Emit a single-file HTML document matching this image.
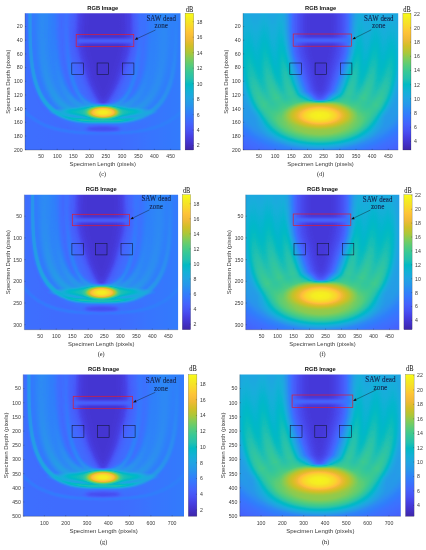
<!DOCTYPE html>
<html lang="en"><head><meta charset="utf-8"><title>RGB Image</title>
<style>html,body{margin:0;padding:0;background:#fff}svg{display:block}svg{font-family:"Liberation Sans",sans-serif}.s{font-family:"Liberation Serif",serif}</style>
</head><body>
<svg width="426" height="550" viewBox="0 0 426 550">
<defs>
<filter id="parula" color-interpolation-filters="sRGB" x="-5%" y="-5%" width="110%" height="110%"><feComponentTransfer><feFuncR type="table" tableValues="0.242 0.250 0.258 0.265 0.271 0.275 0.278 0.280 0.281 0.281 0.280 0.276 0.270 0.260 0.244 0.221 0.196 0.183 0.179 0.176 0.169 0.154 0.146 0.138 0.125 0.111 0.095 0.069 0.030 0.004 0.007 0.043 0.096 0.141 0.172 0.194 0.216 0.247 0.291 0.341 0.391 0.446 0.504 0.562 0.617 0.672 0.724 0.774 0.820 0.863 0.903 0.939 0.973 0.996 0.997 0.995 0.989 0.979 0.968 0.961 0.960 0.963 0.969 0.977"/><feFuncG type="table" tableValues="0.150 0.165 0.182 0.198 0.215 0.234 0.256 0.278 0.301 0.323 0.345 0.367 0.389 0.412 0.436 0.460 0.485 0.507 0.529 0.550 0.570 0.590 0.609 0.628 0.646 0.663 0.680 0.695 0.708 0.720 0.731 0.741 0.750 0.758 0.767 0.776 0.784 0.792 0.797 0.801 0.803 0.802 0.799 0.794 0.788 0.779 0.770 0.760 0.750 0.741 0.733 0.729 0.730 0.743 0.766 0.789 0.814 0.839 0.864 0.889 0.913 0.937 0.961 0.984"/><feFuncB type="table" tableValues="0.660 0.708 0.751 0.795 0.836 0.871 0.899 0.922 0.941 0.958 0.972 0.983 0.991 0.995 0.999 0.997 0.989 0.980 0.968 0.952 0.936 0.922 0.908 0.897 0.888 0.876 0.860 0.839 0.816 0.792 0.766 0.739 0.712 0.684 0.655 0.625 0.592 0.557 0.519 0.479 0.435 0.391 0.348 0.304 0.261 0.223 0.191 0.165 0.153 0.160 0.177 0.210 0.239 0.237 0.220 0.203 0.189 0.177 0.164 0.154 0.142 0.127 0.106 0.081"/></feComponentTransfer></filter>
<filter id="b10" x="-40%" y="-120%" width="180%" height="340%" color-interpolation-filters="sRGB"><feGaussianBlur stdDeviation="1.0"/></filter>
<filter id="b12" x="-40%" y="-120%" width="180%" height="340%" color-interpolation-filters="sRGB"><feGaussianBlur stdDeviation="1.2"/></filter>
<filter id="b13" x="-40%" y="-120%" width="180%" height="340%" color-interpolation-filters="sRGB"><feGaussianBlur stdDeviation="1.3"/></filter>
<filter id="b15" x="-40%" y="-120%" width="180%" height="340%" color-interpolation-filters="sRGB"><feGaussianBlur stdDeviation="1.5"/></filter>
<filter id="b16" x="-40%" y="-120%" width="180%" height="340%" color-interpolation-filters="sRGB"><feGaussianBlur stdDeviation="1.6"/></filter>
<filter id="b18" x="-40%" y="-120%" width="180%" height="340%" color-interpolation-filters="sRGB"><feGaussianBlur stdDeviation="1.8"/></filter>
<filter id="b20" x="-40%" y="-120%" width="180%" height="340%" color-interpolation-filters="sRGB"><feGaussianBlur stdDeviation="2.0"/></filter>
<filter id="b22" x="-40%" y="-120%" width="180%" height="340%" color-interpolation-filters="sRGB"><feGaussianBlur stdDeviation="2.2"/></filter>
<filter id="b25" x="-40%" y="-120%" width="180%" height="340%" color-interpolation-filters="sRGB"><feGaussianBlur stdDeviation="2.5"/></filter>
<filter id="b30" x="-40%" y="-120%" width="180%" height="340%" color-interpolation-filters="sRGB"><feGaussianBlur stdDeviation="3.0"/></filter>
<filter id="b35" x="-40%" y="-120%" width="180%" height="340%" color-interpolation-filters="sRGB"><feGaussianBlur stdDeviation="3.5"/></filter>
<filter id="b40" x="-40%" y="-120%" width="180%" height="340%" color-interpolation-filters="sRGB"><feGaussianBlur stdDeviation="4.0"/></filter>
<filter id="b45" x="-40%" y="-120%" width="180%" height="340%" color-interpolation-filters="sRGB"><feGaussianBlur stdDeviation="4.5"/></filter>
<filter id="b50" x="-40%" y="-120%" width="180%" height="340%" color-interpolation-filters="sRGB"><feGaussianBlur stdDeviation="5.0"/></filter>
<filter id="b60" x="-40%" y="-120%" width="180%" height="340%" color-interpolation-filters="sRGB"><feGaussianBlur stdDeviation="6.0"/></filter>
<linearGradient id="cbar" x1="0" y1="1" x2="0" y2="0"><stop offset="0" stop-color="rgb(62,38,168)"/><stop offset="0.05" stop-color="rgb(67,50,203)"/><stop offset="0.1" stop-color="rgb(71,65,229)"/><stop offset="0.14" stop-color="rgb(72,82,244)"/><stop offset="0.19" stop-color="rgb(69,99,253)"/><stop offset="0.24" stop-color="rgb(56,117,254)"/><stop offset="0.29" stop-color="rgb(46,135,247)"/><stop offset="0.33" stop-color="rgb(39,151,235)"/><stop offset="0.38" stop-color="rgb(32,165,227)"/><stop offset="0.43" stop-color="rgb(18,177,214)"/><stop offset="0.48" stop-color="rgb(2,186,195)"/><stop offset="0.52" stop-color="rgb(36,193,174)"/><stop offset="0.57" stop-color="rgb(55,200,151)"/><stop offset="0.62" stop-color="rgb(87,204,122)"/><stop offset="0.67" stop-color="rgb(129,204,89)"/><stop offset="0.71" stop-color="rgb(171,199,57)"/><stop offset="0.76" stop-color="rgb(209,191,39)"/><stop offset="0.81" stop-color="rgb(240,186,54)"/><stop offset="0.86" stop-color="rgb(254,195,56)"/><stop offset="0.9" stop-color="rgb(250,214,45)"/><stop offset="0.95" stop-color="rgb(245,233,36)"/><stop offset="1" stop-color="rgb(249,251,21)"/></linearGradient>
<radialGradient id="blobL" cx="0.5" cy="0.5" r="0.5"><stop offset="0" stop-color="#f7f7f7" stop-opacity="1"/><stop offset="0.2" stop-color="#f5f5f5" stop-opacity="1"/><stop offset="0.38" stop-color="#e8e8e8" stop-opacity="1"/><stop offset="0.55" stop-color="#d1d1d1" stop-opacity="1"/><stop offset="0.7" stop-color="#b8b8b8" stop-opacity="0.9"/><stop offset="0.85" stop-color="#9e9e9e" stop-opacity="0.55"/><stop offset="1" stop-color="#8c8c8c" stop-opacity="0"/></radialGradient>
<radialGradient id="haloL" cx="0.5" cy="0.5" r="0.5"><stop offset="0" stop-color="#9e9e9e" stop-opacity="1"/><stop offset="0.4" stop-color="#949494" stop-opacity="0.9"/><stop offset="0.7" stop-color="#808080" stop-opacity="0.6"/><stop offset="1" stop-color="#6b6b6b" stop-opacity="0"/></radialGradient>
<radialGradient id="tailL" cx="0.5" cy="0.5" r="0.5"><stop offset="0" stop-color="#8c8c8c" stop-opacity="0.95"/><stop offset="0.45" stop-color="#858585" stop-opacity="0.95"/><stop offset="0.7" stop-color="#787878" stop-opacity="0.7"/><stop offset="1" stop-color="#616161" stop-opacity="0"/></radialGradient>
<radialGradient id="blobR" cx="0.5" cy="0.5" r="0.5"><stop offset="0" stop-color="#fafafa" stop-opacity="1"/><stop offset="0.22" stop-color="#f5f5f5" stop-opacity="1"/><stop offset="0.4" stop-color="#e6e6e6" stop-opacity="1"/><stop offset="0.55" stop-color="#cfcfcf" stop-opacity="1"/><stop offset="0.75" stop-color="#bdbdbd" stop-opacity="0.9"/><stop offset="1" stop-color="#adadad" stop-opacity="0"/></radialGradient>
<radialGradient id="haloR" cx="0.5" cy="0.5" r="0.5"><stop offset="0" stop-color="#b8b8b8" stop-opacity="1"/><stop offset="0.45" stop-color="#adadad" stop-opacity="1"/><stop offset="0.65" stop-color="#9e9e9e" stop-opacity="0.85"/><stop offset="0.85" stop-color="#8a8a8a" stop-opacity="0.4"/><stop offset="1" stop-color="#7a7a7a" stop-opacity="0"/></radialGradient>
<linearGradient id="sideL0" gradientUnits="userSpaceOnUse" x1="25" y1="0" x2="180.5" y2="0"><stop offset="0" stop-color="#3d3d3d" stop-opacity="0.25"/><stop offset="0.2" stop-color="#3d3d3d" stop-opacity="0"/><stop offset="0.6" stop-color="#404040" stop-opacity="0"/><stop offset="0.8" stop-color="#454545" stop-opacity="0.4"/><stop offset="1" stop-color="#474747" stop-opacity="0.6"/></linearGradient>
<radialGradient id="arcg0" gradientUnits="userSpaceOnUse" cx="103.06" cy="112.38" r="125.33"><stop offset="0" stop-color="#999999" stop-opacity="0.95"/><stop offset="0.19" stop-color="#8a8a8a" stop-opacity="0.95"/><stop offset="0.38" stop-color="#757575" stop-opacity="0.85"/><stop offset="0.58" stop-color="#666666" stop-opacity="0.7"/><stop offset="0.77" stop-color="#5c5c5c" stop-opacity="0.5"/><stop offset="1" stop-color="#545454" stop-opacity="0.35"/></radialGradient>
<clipPath id="cp0"><rect x="25" y="13.2" width="155.5" height="136.8"/></clipPath>
<radialGradient id="sideR1" cx="0.5" cy="0.15" r="1"><stop offset="0" stop-color="#333333" stop-opacity="0"/><stop offset="0.68" stop-color="#333333" stop-opacity="0"/><stop offset="0.97" stop-color="#2b2b2b" stop-opacity="0.95"/></radialGradient>
<radialGradient id="arcg1" gradientUnits="userSpaceOnUse" cx="319.98" cy="115.53" r="125.09"><stop offset="0" stop-color="#bdbdbd" stop-opacity="1"/><stop offset="0.23" stop-color="#b0b0b0" stop-opacity="1"/><stop offset="0.46" stop-color="#9e9e9e" stop-opacity="0.95"/><stop offset="0.77" stop-color="#858585" stop-opacity="0.8"/><stop offset="1" stop-color="#737373" stop-opacity="0.6"/></radialGradient>
<clipPath id="cp1"><rect x="243" y="13.2" width="155.2" height="136.8"/></clipPath>
<linearGradient id="sideL2" gradientUnits="userSpaceOnUse" x1="24.4" y1="0" x2="178.1" y2="0"><stop offset="0" stop-color="#3d3d3d" stop-opacity="0.25"/><stop offset="0.2" stop-color="#3d3d3d" stop-opacity="0"/><stop offset="0.6" stop-color="#404040" stop-opacity="0"/><stop offset="0.8" stop-color="#454545" stop-opacity="0.4"/><stop offset="1" stop-color="#474747" stop-opacity="0.6"/></linearGradient>
<radialGradient id="arcg2" gradientUnits="userSpaceOnUse" cx="101.56" cy="292.57" r="123.88"><stop offset="0" stop-color="#999999" stop-opacity="0.95"/><stop offset="0.19" stop-color="#8a8a8a" stop-opacity="0.95"/><stop offset="0.38" stop-color="#757575" stop-opacity="0.85"/><stop offset="0.58" stop-color="#666666" stop-opacity="0.7"/><stop offset="0.77" stop-color="#5c5c5c" stop-opacity="0.5"/><stop offset="1" stop-color="#545454" stop-opacity="0.35"/></radialGradient>
<clipPath id="cp2"><rect x="24.4" y="194.7" width="153.7" height="135"/></clipPath>
<radialGradient id="sideR3" cx="0.5" cy="0.15" r="1"><stop offset="0" stop-color="#333333" stop-opacity="0"/><stop offset="0.68" stop-color="#333333" stop-opacity="0"/><stop offset="0.97" stop-color="#2b2b2b" stop-opacity="0.95"/></radialGradient>
<radialGradient id="arcg3" gradientUnits="userSpaceOnUse" cx="320.81" cy="295.68" r="123.8"><stop offset="0" stop-color="#bdbdbd" stop-opacity="1"/><stop offset="0.23" stop-color="#b0b0b0" stop-opacity="1"/><stop offset="0.46" stop-color="#9e9e9e" stop-opacity="0.95"/><stop offset="0.77" stop-color="#858585" stop-opacity="0.8"/><stop offset="1" stop-color="#737373" stop-opacity="0.6"/></radialGradient>
<clipPath id="cp3"><rect x="245.7" y="194.7" width="153.6" height="135"/></clipPath>
<linearGradient id="sideL4" gradientUnits="userSpaceOnUse" x1="23.2" y1="0" x2="184" y2="0"><stop offset="0" stop-color="#3d3d3d" stop-opacity="0.25"/><stop offset="0.2" stop-color="#3d3d3d" stop-opacity="0"/><stop offset="0.6" stop-color="#404040" stop-opacity="0"/><stop offset="0.8" stop-color="#454545" stop-opacity="0.4"/><stop offset="1" stop-color="#474747" stop-opacity="0.6"/></linearGradient>
<radialGradient id="arcg4" gradientUnits="userSpaceOnUse" cx="102.96" cy="477.3" r="129.6"><stop offset="0" stop-color="#999999" stop-opacity="0.95"/><stop offset="0.19" stop-color="#8a8a8a" stop-opacity="0.95"/><stop offset="0.38" stop-color="#757575" stop-opacity="0.85"/><stop offset="0.58" stop-color="#666666" stop-opacity="0.7"/><stop offset="0.77" stop-color="#5c5c5c" stop-opacity="0.5"/><stop offset="1" stop-color="#545454" stop-opacity="0.35"/></radialGradient>
<clipPath id="cp4"><rect x="23.2" y="374.5" width="160.8" height="141.8"/></clipPath>
<radialGradient id="sideR5" cx="0.5" cy="0.15" r="1"><stop offset="0" stop-color="#333333" stop-opacity="0"/><stop offset="0.68" stop-color="#333333" stop-opacity="0"/><stop offset="0.97" stop-color="#2b2b2b" stop-opacity="0.95"/></radialGradient>
<radialGradient id="arcg5" gradientUnits="userSpaceOnUse" cx="319.33" cy="480.57" r="129.77"><stop offset="0" stop-color="#bdbdbd" stop-opacity="1"/><stop offset="0.23" stop-color="#b0b0b0" stop-opacity="1"/><stop offset="0.46" stop-color="#9e9e9e" stop-opacity="0.95"/><stop offset="0.77" stop-color="#858585" stop-opacity="0.8"/><stop offset="1" stop-color="#737373" stop-opacity="0.6"/></radialGradient>
<clipPath id="cp5"><rect x="239.8" y="374.5" width="161" height="141.8"/></clipPath>
</defs>
<rect width="426" height="550" fill="#fff"/>
<g id="panel-c">
<g clip-path="url(#cp0)"><g filter="url(#parula)">
<rect x="23" y="11.2" width="159.5" height="140.8" fill="#373737" fill-opacity="1"/>
<path d="M162.93 6.36 162.93 13.2 162.84 29.63 162.59 39.25 162.16 47.25 161.56 54.31 160.79 60.7 159.85 66.56 158.74 71.97 157.45 76.97 156 81.61 154.37 85.91 152.56 89.89 150.58 93.55 148.41 96.9 146.06 99.96 143.52 102.71 140.78 105.18 137.81 107.35 134.62 109.23 131.15 110.82 127.37 112.12 123.2 113.13 118.47 113.85 112.78 114.29 103.06 114.43 93.34 114.29 87.66 113.85 82.92 113.13 78.75 112.12 74.97 110.82 71.5 109.23 68.31 107.35 65.35 105.18 62.6 102.71 60.06 99.96 57.71 96.9 55.54 93.55 53.56 89.89 51.75 85.91 50.12 81.61 48.67 76.97 47.38 71.97 46.27 66.56 45.33 60.7 44.56 54.31 43.96 47.25 43.54 39.25 43.28 29.63 43.19 13.2 43.19 6.36" fill="none" stroke="#5e5e5e" stroke-opacity="0.55" stroke-width="18" stroke-linejoin="round" filter="url(#b40)"/>
<path d="M205.69 6.36 205.69 13.2 205.54 32.63 205.1 44 204.37 53.46 203.35 61.81 202.03 69.37 200.41 76.29 198.51 82.69 196.31 88.61 193.81 94.09 191.01 99.18 187.92 103.88 184.52 108.21 180.81 112.17 176.78 115.78 172.42 119.04 167.71 121.95 162.64 124.52 157.16 126.75 151.22 128.63 144.74 130.17 137.58 131.36 129.47 132.22 119.72 132.73 103.06 132.9 86.4 132.73 76.65 132.22 68.54 131.36 61.38 130.17 54.9 128.63 48.96 126.75 43.48 124.52 38.41 121.95 33.7 119.04 29.34 115.78 25.31 112.17 21.6 108.21 18.2 103.88 15.11 99.18 12.31 94.09 9.82 88.61 7.61 82.69 5.71 76.29 4.09 69.37 2.78 61.81 1.75 53.46 1.02 44 0.58 32.63 0.43 13.2 0.43 6.36" fill="none" stroke="#525252" stroke-opacity="0.55" stroke-width="2.4" stroke-linejoin="round" filter="url(#b12)"/>
<path d="M176.15 6.36 176.15 13.2 176.05 33.77 175.77 44.46 175.29 53.08 174.63 60.54 173.77 67.18 172.72 73.2 171.48 78.7 170.04 83.75 168.41 88.41 166.58 92.69 164.54 96.63 162.3 100.24 159.84 103.54 157.16 106.53 154.24 109.22 151.08 111.62 147.64 113.73 143.89 115.56 139.8 117.1 135.28 118.36 130.2 119.33 124.34 120.03 117.06 120.45 103.06 120.59 89.06 120.45 81.79 120.03 75.92 119.33 70.85 118.36 66.32 117.1 62.23 115.56 58.48 113.73 55.05 111.62 51.88 109.22 48.96 106.53 46.28 103.54 43.82 100.24 41.58 96.63 39.54 92.69 37.71 88.41 36.08 83.75 34.64 78.7 33.4 73.2 32.35 67.18 31.5 60.54 30.83 53.08 30.36 44.46 30.07 33.77 29.98 13.2 29.98 6.36" fill="none" stroke="url(#arcg0)" stroke-opacity="1.0" stroke-width="4.0" stroke-linejoin="round" filter="url(#b13)"/>
<path d="M62.23 115.56 58.48 113.73 55.05 111.62 51.88 109.22 48.96 106.53 46.28 103.54 43.82 100.24 41.58 96.63 39.54 92.69 37.71 88.41 36.08 83.75 34.64 78.7 33.4 73.2 32.35 67.18 31.5 60.54 30.83 53.08 30.36 44.46 30.07 33.77 29.98 13.2 29.98 6.36" fill="none" stroke="#6b6b6b" stroke-opacity="0.55" stroke-width="3.2" stroke-linejoin="round" filter="url(#b14)"/>
<path d="M164.79 6.36 164.79 13.2 164.71 31.49 164.46 41.36 164.05 49.41 163.47 56.4 162.73 62.67 161.81 68.36 160.73 73.59 159.49 78.4 158.07 82.84 156.48 86.93 154.71 90.7 152.77 94.17 150.65 97.33 148.33 100.2 145.82 102.79 143.09 105.1 140.14 107.14 136.93 108.89 133.43 110.38 129.59 111.59 125.29 112.54 120.35 113.21 114.29 113.61 103.06 113.75 91.83 113.61 85.77 113.21 80.83 112.54 76.54 111.59 72.69 110.38 69.19 108.89 65.99 107.14 63.03 105.1 60.31 102.79 57.79 100.2 55.48 97.33 53.35 94.17 51.41 90.7 49.64 86.93 48.05 82.84 46.64 78.4 45.39 73.59 44.31 68.36 43.4 62.67 42.65 56.4 42.07 49.41 41.66 41.36 41.41 31.49 41.33 13.2 41.33 6.36" fill="none" stroke="url(#arcg0)" stroke-opacity="0.6" stroke-width="4.0" stroke-linejoin="round" filter="url(#b20)"/>
<path d="M151.27 6.36 151.27 13.2 151.2 28.74 150.99 37.84 150.65 45.41 150.16 52.09 149.55 58.13 148.79 63.68 147.89 68.79 146.86 73.53 145.69 77.92 144.37 81.98 142.92 85.74 141.32 89.2 139.58 92.38 137.69 95.27 135.64 97.87 133.43 100.2 131.04 102.26 128.47 104.04 125.68 105.54 122.64 106.77 119.28 107.73 115.46 108.41 110.89 108.82 103.06 108.96 95.24 108.82 90.66 108.41 86.85 107.73 83.48 106.77 80.44 105.54 77.65 104.04 75.08 102.26 72.69 100.2 70.48 97.87 68.44 95.27 66.54 92.38 64.8 89.2 63.2 85.74 61.75 81.98 60.44 77.92 59.26 73.53 58.23 68.79 57.33 63.68 56.58 58.13 55.96 52.09 55.48 45.41 55.13 37.84 54.92 28.74 54.86 13.2 54.86 6.36" fill="none" stroke="url(#arcg0)" stroke-opacity="0.5" stroke-width="3.6" stroke-linejoin="round" filter="url(#b20)"/>
<path d="M139.6 6.36 139.6 13.2 139.55 26.46 139.38 34.92 139.1 42.15 138.71 48.62 138.21 54.55 137.59 60.04 136.87 65.14 136.04 69.9 135.09 74.33 134.03 78.46 132.87 82.29 131.59 85.82 130.2 89.08 128.7 92.05 127.08 94.73 125.33 97.14 123.47 99.27 121.46 101.11 119.31 102.67 116.98 103.95 114.43 104.94 111.6 105.65 108.27 106.08 103.06 106.22 97.85 106.08 94.53 105.65 91.69 104.94 89.15 103.95 86.82 102.67 84.66 101.11 82.66 99.27 80.79 97.14 79.05 94.73 77.43 92.05 75.92 89.08 74.53 85.82 73.25 82.29 72.09 78.46 71.03 74.33 70.09 69.9 69.25 65.14 68.53 60.04 67.91 54.55 67.41 48.62 67.02 42.15 66.74 34.92 66.57 26.46 66.52 13.2 66.52 6.36" fill="none" stroke="url(#arcg0)" stroke-opacity="0.4" stroke-width="2.8" stroke-linejoin="round" filter="url(#b18)"/>
<rect x="23" y="11.2" width="159.5" height="140.8" fill="url(#sideL0)" fill-opacity="1"/>
<path d="M70.87 6.36 71.89 13.2 70.5 34.71 72.28 49.04 74.51 57.65 79.37 70.55 82.61 79.15 85.37 86.32 91.45 97.22 97.56 106.1 103.06 111.7 103.06 111.7 108.75 106.1 115.18 97.22 121.64 86.32 124.64 79.15 128.18 70.55 133.49 57.65 136.01 49.04 138.3 34.71 137.65 13.2 138.67 6.36Z" fill="#212121" fill-opacity="0.55" filter="url(#b30)"/>
<path d="M76.94 6.36 77.77 13.2 76.56 33.66 77.98 47.3 79.78 55.48 83.73 67.76 86.37 75.94 88.61 82.76 93.57 93.13 98.57 101.59 103.06 106.91 103.06 106.91 107.75 101.59 113.05 93.13 118.39 82.76 120.88 75.94 123.82 67.76 128.22 55.48 130.31 47.3 132.23 33.66 131.77 13.2 132.61 6.36Z" fill="#181818" fill-opacity="0.84" filter="url(#b18)"/>
<path d="M82.01 6.36 82.69 13.2 81.63 32.91 82.75 46.06 84.19 53.94 87.38 65.77 89.51 73.65 91.32 80.23 95.34 90.21 99.4 98.36 103.06 103.49 103.06 103.49 106.91 98.36 111.28 90.21 115.68 80.23 117.74 73.65 120.17 65.77 123.81 53.94 125.55 46.06 127.16 32.91 126.85 13.2 127.54 6.36Z" fill="#080808" fill-opacity="0.55" filter="url(#b30)"/>
<rect x="77.7" y="38.89" width="54.6" height="4.15" fill="#3d3d3d" fill-opacity="0.7" filter="url(#b10)"/>
<ellipse cx="103.06" cy="128.8" rx="17.11" ry="2.74" fill="#080808" fill-opacity="0.5" filter="url(#b18)"/>
<ellipse cx="103.06" cy="111.97" rx="55.98" ry="6.43" fill="url(#tailL)" fill-opacity="1"/>
<ellipse cx="103.06" cy="112.38" rx="31.1" ry="9.58" fill="url(#haloL)" fill-opacity="1"/>
<ellipse cx="103.06" cy="112.38" rx="20.21" ry="7.66" fill="url(#blobL)" fill-opacity="1"/>
</g></g>
<path d="M25 13.2V150H180.5" fill="none" stroke="#262626" stroke-width="0.35" stroke-opacity="0.8"/>
<path d="M41.04 150v-1.2M57.23 150v-1.2M73.43 150v-1.2M89.63 150v-1.2M105.83 150v-1.2M122.03 150v-1.2M138.22 150v-1.2M154.42 150v-1.2M170.62 150v-1.2M25 26.54h1.2M25 40.22h1.2M25 53.9h1.2M25 67.58h1.2M25 81.26h1.2M25 94.94h1.2M25 108.62h1.2M25 122.3h1.2M25 135.98h1.2M25 149.66h1.2" stroke="#262626" stroke-width="0.35" stroke-opacity="0.8" fill="none"/>
<g font-size="5.2" fill="#3a3a3a">
<g text-anchor="middle"><text x="41.04" y="158.2">50</text><text x="57.23" y="158.2">100</text><text x="73.43" y="158.2">150</text><text x="89.63" y="158.2">200</text><text x="105.83" y="158.2">250</text><text x="122.03" y="158.2">300</text><text x="138.22" y="158.2">350</text><text x="154.42" y="158.2">400</text><text x="170.62" y="158.2">450</text></g>
<g text-anchor="end"><text x="22.6" y="28.44">20</text><text x="22.6" y="42.12">40</text><text x="22.6" y="55.8">60</text><text x="22.6" y="69.48">80</text><text x="22.6" y="83.16">100</text><text x="22.6" y="96.84">120</text><text x="22.6" y="110.52">140</text><text x="22.6" y="124.2">160</text><text x="22.6" y="137.88">180</text><text x="22.6" y="151.56">200</text></g>
</g>
<text x="102.75" y="10.3" font-size="5.75" font-weight="bold" text-anchor="middle" fill="#111">RGB Image</text>
<text x="102.75" y="166.4" font-size="5.9" text-anchor="middle" fill="#3a3a3a">Specimen Length (pixels)</text>
<text transform="translate(10.2 81.6) rotate(-90)" font-size="5.9" text-anchor="middle" fill="#3a3a3a">Specimen Depth (pixels)</text>
<text class="s" x="102.75" y="176.3" font-size="6.2" text-anchor="middle" fill="#222">(c)</text>
<rect x="185.1" y="13.2" width="8.6" height="136.8" fill="url(#cbar)" stroke="#262626" stroke-width="0.3" stroke-opacity="0.7"/>
<path d="M193.7 145.59h-1M193.7 130.1h-1M193.7 114.62h-1M193.7 99.14h-1M193.7 83.65h-1M193.7 68.17h-1M193.7 52.68h-1M193.7 37.2h-1M193.7 21.72h-1" stroke="#262626" stroke-width="0.35" stroke-opacity="0.8" fill="none"/>
<g font-size="5.2" fill="#3a3a3a"><text x="196.7" y="147.49">2</text><text x="196.7" y="132">4</text><text x="196.7" y="116.52">6</text><text x="196.7" y="101.04">8</text><text x="196.7" y="85.55">10</text><text x="196.7" y="70.07">12</text><text x="196.7" y="54.58">14</text><text x="196.7" y="39.1">16</text><text x="196.7" y="23.62">18</text></g>
<text class="s" x="185.8" y="11.9" font-size="7.3" textLength="7.5" lengthAdjust="spacingAndGlyphs" fill="#222" stroke="#222" stroke-width="0.06">dB</text>
<rect x="76.2" y="34.5" width="57.6" height="12.2" fill="none" stroke="#dc1e32" stroke-width="0.7"/>
<rect x="71.8" y="63" width="11.5" height="11.5" fill="none" stroke="#14183c" stroke-width="0.6"/>
<rect x="97.1" y="63" width="11.5" height="11.5" fill="none" stroke="#14183c" stroke-width="0.6"/>
<rect x="122.4" y="63" width="11.5" height="11.5" fill="none" stroke="#14183c" stroke-width="0.6"/>
<g class="s" font-size="7.5" fill="#14244e" stroke="#14244e" stroke-width="0.1"><text x="146.5" y="21" textLength="29.6" lengthAdjust="spacingAndGlyphs">SAW dead</text><text x="154.6" y="28.4" textLength="13.4" lengthAdjust="spacingAndGlyphs">zone</text></g>
<path d="M155.5 30L137.6 38.35" stroke="#111" stroke-width="0.4" fill="none"/>
<path d="M134.7 39.7L137.03 37.12L138.17 39.57Z" fill="#111"/>
</g>
<g id="panel-d">
<g clip-path="url(#cp1)"><g filter="url(#parula)">
<rect x="241" y="11.2" width="159.2" height="140.8" fill="#545454" fill-opacity="1"/>
<rect x="241" y="11.2" width="159.2" height="140.8" fill="url(#sideR1)" fill-opacity="1"/>
<path d="M287.39 6.36 287.39 13.2 287.32 35.25 288.92 49.95 291.19 58.77 297.73 72 301.32 80.82 304.26 88.17 309.49 99.35 316.7 108.46 319.98 111.7 319.98 111.7 323.28 108.46 330.55 99.35 335.85 88.17 338.83 80.82 342.48 72 349.1 58.77 351.43 49.95 353.12 35.25 353.19 13.2 353.19 6.36Z" fill="#303030" fill-opacity="0.6" filter="url(#b30)"/>
<path d="M416.2 6.36 416.2 13.2 416.06 31.73 415.61 43.55 414.88 53.64 413.85 62.69 412.53 70.97 410.91 78.64 409.01 85.77 406.81 92.41 404.32 98.6 401.54 104.37 398.47 109.72 395.1 114.66 391.44 119.21 387.48 123.35 383.21 127.11 378.63 130.47 373.71 133.44 368.43 136.01 362.76 138.2 356.62 139.98 349.92 141.37 342.45 142.36 333.7 142.96 319.98 143.16 306.26 142.96 297.51 142.36 290.04 141.37 283.34 139.98 277.2 138.2 271.53 136.01 266.25 133.44 261.33 130.47 256.74 127.11 252.48 123.35 248.52 119.21 244.86 114.66 241.49 109.72 238.42 104.37 235.64 98.6 233.15 92.41 230.95 85.77 229.05 78.64 227.43 70.97 226.11 62.69 225.08 53.64 224.34 43.55 223.9 31.73 223.76 13.2 223.76 6.36" fill="none" stroke="#6b6b6b" stroke-opacity="0.5" stroke-width="10" stroke-linejoin="round" filter="url(#b40)"/>
<path d="M392.92 6.36 392.92 13.2 392.82 32.51 392.52 43.36 392.02 52.28 391.31 60.1 390.4 67.14 389.29 73.56 387.98 79.47 386.46 84.93 384.73 89.97 382.8 94.64 380.66 98.94 378.31 102.9 375.73 106.52 372.94 109.81 369.9 112.78 366.62 115.43 363.07 117.77 359.23 119.79 355.05 121.5 350.48 122.89 345.39 123.98 339.59 124.76 332.54 125.22 319.98 125.38 307.42 125.22 300.37 124.76 294.56 123.98 289.48 122.89 284.9 121.5 280.73 119.79 276.89 117.77 273.34 115.43 270.06 112.78 267.02 109.81 264.22 106.52 261.65 102.9 259.3 98.94 257.15 94.64 255.22 89.97 253.5 84.93 251.98 79.47 250.67 73.56 249.56 67.14 248.65 60.1 247.94 52.28 247.44 43.36 247.14 32.51 247.04 13.2 247.04 6.36" fill="none" stroke="url(#arcg1)" stroke-opacity="1.0" stroke-width="16" stroke-linejoin="round" filter="url(#b50)"/>
<path d="M375.85 6.36 375.85 13.2 375.77 30.3 375.53 40.3 375.13 48.63 374.57 55.98 373.86 62.63 372.98 68.72 371.94 74.35 370.74 79.56 369.38 84.39 367.86 88.86 366.18 93 364.32 96.81 362.3 100.3 360.11 103.47 357.74 106.34 355.18 108.9 352.41 111.16 349.43 113.12 346.2 114.78 342.67 116.13 338.77 117.18 334.36 117.93 329.05 118.39 319.98 118.54 310.91 118.39 305.6 117.93 301.19 117.18 297.29 116.13 293.76 114.78 290.53 113.12 287.55 111.16 284.78 108.9 282.22 106.34 279.85 103.47 277.65 100.3 275.63 96.81 273.78 93 272.1 88.86 270.58 84.39 269.22 79.56 268.02 74.35 266.98 68.72 266.1 62.63 265.38 55.98 264.83 48.63 264.43 40.3 264.19 30.3 264.11 13.2 264.11 6.36" fill="none" stroke="url(#arcg1)" stroke-opacity="0.9" stroke-width="15" stroke-linejoin="round" filter="url(#b50)"/>
<path d="M358.78 6.36 358.78 13.2 358.72 25.79 358.52 34.62 358.2 42.39 357.76 49.47 357.19 56.05 356.49 62.21 355.66 67.98 354.72 73.4 353.64 78.48 352.45 83.24 351.14 87.67 349.7 91.79 348.14 95.59 346.47 99.06 344.67 102.22 342.74 105.05 340.69 107.56 338.51 109.74 336.19 111.59 333.7 113.1 331.02 114.28 328.08 115.12 324.74 115.63 319.98 115.8 315.22 115.63 311.88 115.12 308.94 114.28 306.26 113.1 303.77 111.59 301.45 109.74 299.26 107.56 297.21 105.05 295.29 102.22 293.49 99.06 291.82 95.59 290.26 91.79 288.82 87.67 287.51 83.24 286.31 78.48 285.24 73.4 284.3 67.98 283.47 62.21 282.77 56.05 282.2 49.47 281.75 42.39 281.43 34.62 281.24 25.79 281.18 13.2 281.18 6.36" fill="none" stroke="url(#arcg1)" stroke-opacity="0.8" stroke-width="13" stroke-linejoin="round" filter="url(#b50)"/>
<ellipse cx="319.98" cy="120.59" rx="65.18" ry="30.1" fill="url(#haloR)" fill-opacity="1"/>
<path d="M289.72 6.36 289.72 13.2 289.65 34.95 291.13 49.44 293.24 58.14 299.31 71.19 302.65 79.88 305.38 87.13 310.23 98.15 316.93 107.14 319.98 110.33 319.98 110.33 323.05 107.14 329.8 98.15 334.73 87.13 337.5 79.88 340.89 71.19 347.05 58.14 349.22 49.44 350.79 34.95 350.86 13.2 350.86 6.36Z" fill="#333333" fill-opacity="0.5" filter="url(#b40)"/>
<path d="M294.53 6.36 294.53 13.2 294.46 34.03 295.7 47.91 297.47 56.24 302.59 68.74 305.39 77.07 307.69 84.01 311.77 94.56 317.41 103.17 319.98 106.22 319.98 106.22 322.57 103.17 328.26 94.56 332.42 84.01 334.76 77.07 337.62 68.74 342.82 56.24 344.65 47.91 345.98 34.03 346.05 13.2 346.05 6.36Z" fill="#1c1c1c" fill-opacity="0.66" filter="url(#b35)"/>
<path d="M302.19 6.36 302.19 13.2 302.12 33.11 302.98 46.38 304.22 54.34 307.79 66.29 309.76 74.25 311.36 80.89 314.23 90.97 318.18 99.2 319.98 102.12 319.98 102.12 321.8 99.2 325.81 90.97 328.74 80.89 330.39 74.25 332.41 66.29 336.08 54.34 337.37 46.38 338.32 33.11 338.39 13.2 338.39 6.36Z" fill="#0a0a0a" fill-opacity="0.7" filter="url(#b40)"/>
<rect x="294.7" y="38.39" width="55.4" height="4.15" fill="#424242" fill-opacity="0.7" filter="url(#b10)"/>
<ellipse cx="319.98" cy="115.53" rx="38.8" ry="16.14" fill="url(#blobR)" fill-opacity="1"/>
</g></g>
<path d="M243 13.2V150H398.2" fill="none" stroke="#262626" stroke-width="0.35" stroke-opacity="0.8"/>
<path d="M259 150v-1.2M275.17 150v-1.2M291.34 150v-1.2M307.5 150v-1.2M323.67 150v-1.2M339.84 150v-1.2M356 150v-1.2M372.17 150v-1.2M388.34 150v-1.2M243 26.54h1.2M243 40.22h1.2M243 53.9h1.2M243 67.58h1.2M243 81.26h1.2M243 94.94h1.2M243 108.62h1.2M243 122.3h1.2M243 135.98h1.2M243 149.66h1.2" stroke="#262626" stroke-width="0.35" stroke-opacity="0.8" fill="none"/>
<g font-size="5.2" fill="#3a3a3a">
<g text-anchor="middle"><text x="259" y="158.2">50</text><text x="275.17" y="158.2">100</text><text x="291.34" y="158.2">150</text><text x="307.5" y="158.2">200</text><text x="323.67" y="158.2">250</text><text x="339.84" y="158.2">300</text><text x="356" y="158.2">350</text><text x="372.17" y="158.2">400</text><text x="388.34" y="158.2">450</text></g>
<g text-anchor="end"><text x="240.6" y="28.44">20</text><text x="240.6" y="42.12">40</text><text x="240.6" y="55.8">60</text><text x="240.6" y="69.48">80</text><text x="240.6" y="83.16">100</text><text x="240.6" y="96.84">120</text><text x="240.6" y="110.52">140</text><text x="240.6" y="124.2">160</text><text x="240.6" y="137.88">180</text><text x="240.6" y="151.56">200</text></g>
</g>
<text x="320.6" y="10.3" font-size="5.75" font-weight="bold" text-anchor="middle" fill="#111">RGB Image</text>
<text x="320.6" y="166.4" font-size="5.9" text-anchor="middle" fill="#3a3a3a">Specimen Length (pixels)</text>
<text transform="translate(228.2 81.6) rotate(-90)" font-size="5.9" text-anchor="middle" fill="#3a3a3a">Specimen Depth (pixels)</text>
<text class="s" x="320.6" y="176.3" font-size="6.2" text-anchor="middle" fill="#222">(d)</text>
<rect x="402.9" y="13.2" width="8.1" height="136.8" fill="url(#cbar)" stroke="#262626" stroke-width="0.3" stroke-opacity="0.7"/>
<path d="M411 141.35h-1M411 127.18h-1M411 113h-1M411 98.82h-1M411 84.65h-1M411 70.47h-1M411 56.3h-1M411 42.12h-1M411 27.94h-1M411 13.77h-1" stroke="#262626" stroke-width="0.35" stroke-opacity="0.8" fill="none"/>
<g font-size="5.2" fill="#3a3a3a"><text x="414" y="143.25">4</text><text x="414" y="129.08">6</text><text x="414" y="114.9">8</text><text x="414" y="100.72">10</text><text x="414" y="86.55">12</text><text x="414" y="72.37">14</text><text x="414" y="58.2">16</text><text x="414" y="44.02">18</text><text x="414" y="29.84">20</text><text x="414" y="15.67">22</text></g>
<text class="s" x="403.3" y="11.9" font-size="7.3" textLength="7.5" lengthAdjust="spacingAndGlyphs" fill="#222" stroke="#222" stroke-width="0.06">dB</text>
<rect x="293.2" y="34" width="58.4" height="12.2" fill="none" stroke="#dc1e32" stroke-width="0.7"/>
<rect x="289.8" y="63" width="11.5" height="11.5" fill="none" stroke="#14183c" stroke-width="0.6"/>
<rect x="315.1" y="63" width="11.5" height="11.5" fill="none" stroke="#14183c" stroke-width="0.6"/>
<rect x="340.4" y="63" width="11.5" height="11.5" fill="none" stroke="#14183c" stroke-width="0.6"/>
<g class="s" font-size="7.5" fill="#14244e" stroke="#14244e" stroke-width="0.1"><text x="363.9" y="21" textLength="29.6" lengthAdjust="spacingAndGlyphs">SAW dead</text><text x="372" y="28.4" textLength="13.4" lengthAdjust="spacingAndGlyphs">zone</text></g>
<path d="M371.3 29.8L355.26 37.86" stroke="#111" stroke-width="0.4" fill="none"/>
<path d="M352.4 39.3L354.65 36.66L355.87 39.07Z" fill="#111"/>
</g>
<g id="panel-e">
<g clip-path="url(#cp2)"><g filter="url(#parula)">
<rect x="22.4" y="192.7" width="157.7" height="139" fill="#373737" fill-opacity="1"/>
<path d="M158.07 187.95 158.07 194.7 157.99 210.92 157.75 220.41 157.34 228.3 156.78 235.27 156.05 241.58 155.16 247.36 154.11 252.69 152.9 257.63 151.53 262.21 149.99 266.46 148.28 270.38 146.41 273.99 144.37 277.3 142.15 280.31 139.75 283.03 137.16 285.47 134.36 287.61 131.34 289.46 128.08 291.03 124.51 292.32 120.57 293.32 116.1 294.03 110.73 294.46 101.56 294.6 92.38 294.46 87.02 294.03 82.55 293.32 78.61 292.32 75.04 291.03 71.77 289.46 68.75 287.61 65.96 285.47 63.37 283.03 60.97 280.31 58.75 277.3 56.7 273.99 54.83 270.38 53.13 266.46 51.59 262.21 50.21 257.63 49 252.69 47.95 247.36 47.06 241.58 46.34 235.27 45.77 228.3 45.37 220.41 45.13 210.92 45.05 194.7 45.05 187.95" fill="none" stroke="#5e5e5e" stroke-opacity="0.55" stroke-width="18" stroke-linejoin="round" filter="url(#b40)"/>
<path d="M198.43 187.95 198.43 194.7 198.3 213.88 197.88 225.1 197.19 234.43 196.22 242.67 194.98 250.13 193.45 256.96 191.65 263.27 189.58 269.11 187.22 274.53 184.58 279.55 181.66 284.19 178.45 288.46 174.95 292.37 171.14 295.93 167.03 299.15 162.59 302.02 157.79 304.56 152.62 306.75 147.02 308.61 140.9 310.13 134.14 311.31 126.49 312.15 117.28 312.66 101.56 312.82 85.83 312.66 76.63 312.15 68.97 311.31 62.21 310.13 56.1 308.61 50.49 306.75 45.32 304.56 40.53 302.02 36.09 299.15 31.97 295.93 28.17 292.37 24.67 288.46 21.46 284.19 18.53 279.55 15.9 274.53 13.54 269.11 11.46 263.27 9.66 256.96 8.14 250.13 6.89 242.67 5.93 234.43 5.23 225.1 4.82 213.88 4.68 194.7 4.68 187.95" fill="none" stroke="#525252" stroke-opacity="0.55" stroke-width="2.4" stroke-linejoin="round" filter="url(#b12)"/>
<path d="M170.55 187.95 170.55 194.7 170.46 214.99 170.19 225.55 169.74 234.06 169.11 241.41 168.3 247.97 167.31 253.91 166.14 259.34 164.79 264.32 163.24 268.92 161.52 273.15 159.59 277.03 157.48 280.6 155.16 283.85 152.62 286.8 149.87 289.46 146.88 291.83 143.64 293.91 140.1 295.71 136.23 297.23 131.97 298.47 127.18 299.44 121.64 300.12 114.77 300.54 101.56 300.68 88.35 300.54 81.47 300.12 75.94 299.44 71.15 298.47 66.88 297.23 63.01 295.71 59.48 293.91 56.23 291.83 53.24 289.46 50.49 286.8 47.96 283.85 45.64 280.6 43.52 277.03 41.6 273.15 39.87 268.92 38.33 264.32 36.97 259.34 35.8 253.91 34.81 247.97 34 241.41 33.38 234.06 32.93 225.55 32.66 214.99 32.57 194.7 32.57 187.95" fill="none" stroke="url(#arcg2)" stroke-opacity="1.0" stroke-width="4.0" stroke-linejoin="round" filter="url(#b13)"/>
<path d="M63.01 295.71 59.48 293.91 56.23 291.83 53.24 289.46 50.49 286.8 47.96 283.85 45.64 280.6 43.52 277.03 41.6 273.15 39.87 268.92 38.33 264.32 36.97 259.34 35.8 253.91 34.81 247.97 34 241.41 33.38 234.06 32.93 225.55 32.66 214.99 32.57 194.7 32.57 187.95" fill="none" stroke="#6b6b6b" stroke-opacity="0.55" stroke-width="3.2" stroke-linejoin="round" filter="url(#b14)"/>
<path d="M159.83 187.95 159.83 194.7 159.75 212.75 159.52 222.49 159.13 230.43 158.58 237.33 157.88 243.52 157.02 249.14 156 254.29 154.82 259.04 153.48 263.42 151.98 267.46 150.32 271.18 148.48 274.6 146.47 277.72 144.29 280.56 141.92 283.11 139.34 285.39 136.55 287.4 133.53 289.13 130.23 290.6 126.59 291.8 122.54 292.73 117.88 293.39 112.16 293.79 101.56 293.92 90.96 293.79 85.24 293.39 80.57 292.73 76.52 291.8 72.89 290.6 69.59 289.13 66.56 287.4 63.77 285.39 61.2 283.11 58.83 280.56 56.64 277.72 54.63 274.6 52.8 271.18 51.13 267.46 49.63 263.42 48.29 259.04 47.12 254.29 46.1 249.14 45.24 243.52 44.53 237.33 43.99 230.43 43.6 222.49 43.36 212.75 43.28 194.7 43.28 187.95" fill="none" stroke="url(#arcg2)" stroke-opacity="0.6" stroke-width="4.0" stroke-linejoin="round" filter="url(#b20)"/>
<path d="M147.06 187.95 147.06 194.7 147 210.04 146.8 219.02 146.48 226.49 146.02 233.08 145.44 239.04 144.72 244.51 143.88 249.56 142.9 254.23 141.79 258.56 140.55 262.58 139.18 266.29 137.67 269.7 136.03 272.84 134.24 275.69 132.31 278.26 130.22 280.56 127.97 282.59 125.54 284.34 122.91 285.83 120.04 287.04 116.86 287.99 113.27 288.66 108.94 289.07 101.56 289.2 94.17 289.07 89.85 288.66 86.25 287.99 83.08 287.04 80.21 285.83 77.57 284.34 75.14 282.59 72.89 280.56 70.81 278.26 68.87 275.69 67.09 272.84 65.44 269.7 63.93 266.29 62.56 262.58 61.32 258.56 60.22 254.23 59.24 249.56 58.39 244.51 57.68 239.04 57.09 233.08 56.64 226.49 56.31 219.02 56.12 210.04 56.05 194.7 56.05 187.95" fill="none" stroke="url(#arcg2)" stroke-opacity="0.5" stroke-width="3.6" stroke-linejoin="round" filter="url(#b20)"/>
<path d="M136.05 187.95 136.05 194.7 136 207.79 135.84 216.14 135.58 223.27 135.21 229.66 134.73 235.51 134.15 240.92 133.47 245.96 132.68 250.65 131.79 255.03 130.79 259.1 129.69 262.88 128.49 266.37 127.18 269.58 125.76 272.51 124.23 275.16 122.58 277.54 120.82 279.63 118.93 281.45 116.89 282.99 114.69 284.25 112.29 285.24 109.61 285.94 106.47 286.36 101.56 286.5 96.64 286.36 93.5 285.94 90.82 285.24 88.42 284.25 86.22 282.99 84.19 281.45 82.3 279.63 80.53 277.54 78.89 275.16 77.36 272.51 75.94 269.58 74.63 266.37 73.42 262.88 72.32 259.1 71.32 255.03 70.43 250.65 69.64 245.96 68.96 240.92 68.38 235.51 67.91 229.66 67.54 223.27 67.27 216.14 67.12 207.79 67.06 194.7 67.06 187.95" fill="none" stroke="url(#arcg2)" stroke-opacity="0.4" stroke-width="2.8" stroke-linejoin="round" filter="url(#b18)"/>
<rect x="22.4" y="192.7" width="157.7" height="139" fill="url(#sideL2)" fill-opacity="1"/>
<path d="M69.9 187.95 70.81 194.7 70.16 215.92 72.17 230.07 74.41 238.56 79.13 251.29 82.28 259.78 84.96 266.86 90.73 277.61 96.47 286.38 101.56 291.9 101.56 291.9 106.51 286.38 112.03 277.61 117.52 266.86 120.02 259.78 122.96 251.29 127.36 238.56 129.38 230.07 131.03 215.92 129.85 194.7 130.76 187.95Z" fill="#212121" fill-opacity="0.55" filter="url(#b30)"/>
<path d="M75.89 187.95 76.62 194.7 76.16 214.89 77.8 228.35 79.62 236.43 83.45 248.54 86 256.62 88.17 263.35 92.82 273.58 97.46 281.93 101.56 287.18 101.56 287.18 105.52 281.93 109.93 273.58 114.32 263.35 116.3 256.62 118.64 248.54 122.14 236.43 123.75 228.35 125.03 214.89 124.03 194.7 124.77 187.95Z" fill="#181818" fill-opacity="0.84" filter="url(#b18)"/>
<path d="M80.29 187.95 80.89 194.7 80.55 214.15 81.94 227.12 83.45 234.91 86.61 246.58 88.72 254.36 90.52 260.84 94.36 270.7 98.18 278.74 101.56 283.8 101.56 283.8 104.79 278.74 108.39 270.7 111.96 260.84 113.58 254.36 115.47 246.58 118.32 234.91 119.62 227.12 120.64 214.15 119.77 194.7 120.37 187.95Z" fill="#080808" fill-opacity="0.55" filter="url(#b30)"/>
<rect x="73.8" y="218.4" width="54.2" height="3.88" fill="#3d3d3d" fill-opacity="0.7" filter="url(#b10)"/>
<ellipse cx="101.56" cy="308.77" rx="16.91" ry="2.7" fill="#080808" fill-opacity="0.5" filter="url(#b18)"/>
<ellipse cx="101.56" cy="292.17" rx="55.33" ry="6.34" fill="url(#tailL)" fill-opacity="1"/>
<ellipse cx="101.56" cy="292.57" rx="30.74" ry="9.45" fill="url(#haloL)" fill-opacity="1"/>
<ellipse cx="101.56" cy="292.57" rx="19.98" ry="7.56" fill="url(#blobL)" fill-opacity="1"/>
</g></g>
<path d="M24.4 194.7V329.7H178.1" fill="none" stroke="#262626" stroke-width="0.35" stroke-opacity="0.8"/>
<path d="M40.25 329.7v-1.2M56.26 329.7v-1.2M72.27 329.7v-1.2M88.28 329.7v-1.2M104.29 329.7v-1.2M120.3 329.7v-1.2M136.31 329.7v-1.2M152.32 329.7v-1.2M168.33 329.7v-1.2M24.4 216.19h1.2M24.4 237.89h1.2M24.4 259.6h1.2M24.4 281.3h1.2M24.4 303h1.2M24.4 324.71h1.2" stroke="#262626" stroke-width="0.35" stroke-opacity="0.8" fill="none"/>
<g font-size="5.2" fill="#3a3a3a">
<g text-anchor="middle"><text x="40.25" y="337.7">50</text><text x="56.26" y="337.7">100</text><text x="72.27" y="337.7">150</text><text x="88.28" y="337.7">200</text><text x="104.29" y="337.7">250</text><text x="120.3" y="337.7">300</text><text x="136.31" y="337.7">350</text><text x="152.32" y="337.7">400</text><text x="168.33" y="337.7">450</text></g>
<g text-anchor="end"><text x="22" y="218.09">50</text><text x="22" y="239.79">100</text><text x="22" y="261.5">150</text><text x="22" y="283.2">200</text><text x="22" y="304.9">250</text><text x="22" y="326.61">300</text></g>
</g>
<text x="101.25" y="191.3" font-size="5.75" font-weight="bold" text-anchor="middle" fill="#111">RGB Image</text>
<text x="101.25" y="345.6" font-size="5.9" text-anchor="middle" fill="#3a3a3a">Specimen Length (pixels)</text>
<text transform="translate(9.6 262.2) rotate(-90)" font-size="5.9" text-anchor="middle" fill="#3a3a3a">Specimen Depth (pixels)</text>
<text class="s" x="101.25" y="355.8" font-size="6.2" text-anchor="middle" fill="#222">(e)</text>
<rect x="182.3" y="194.7" width="8.3" height="135" fill="url(#cbar)" stroke="#262626" stroke-width="0.3" stroke-opacity="0.7"/>
<path d="M190.6 324.2h-1M190.6 309.15h-1M190.6 294.09h-1M190.6 279.03h-1M190.6 263.97h-1M190.6 248.91h-1M190.6 233.85h-1M190.6 218.79h-1M190.6 203.74h-1" stroke="#262626" stroke-width="0.35" stroke-opacity="0.8" fill="none"/>
<g font-size="5.2" fill="#3a3a3a"><text x="193.6" y="326.1">2</text><text x="193.6" y="311.05">4</text><text x="193.6" y="295.99">6</text><text x="193.6" y="280.93">8</text><text x="193.6" y="265.87">10</text><text x="193.6" y="250.81">12</text><text x="193.6" y="235.75">14</text><text x="193.6" y="220.69">16</text><text x="193.6" y="205.64">18</text></g>
<text class="s" x="182.9" y="192.8" font-size="7.3" textLength="7.5" lengthAdjust="spacingAndGlyphs" fill="#222" stroke="#222" stroke-width="0.06">dB</text>
<rect x="72.3" y="214.3" width="57.2" height="11.4" fill="none" stroke="#dc1e32" stroke-width="0.7"/>
<rect x="71.9" y="243.4" width="11.5" height="11.5" fill="none" stroke="#14183c" stroke-width="0.6"/>
<rect x="95.5" y="243.4" width="11.5" height="11.5" fill="none" stroke="#14183c" stroke-width="0.6"/>
<rect x="121" y="243.4" width="11.5" height="11.5" fill="none" stroke="#14183c" stroke-width="0.6"/>
<g class="s" font-size="7.5" fill="#14244e" stroke="#14244e" stroke-width="0.1"><text x="141.5" y="201.2" textLength="29.6" lengthAdjust="spacingAndGlyphs">SAW dead</text><text x="149.6" y="208.6" textLength="13.4" lengthAdjust="spacingAndGlyphs">zone</text></g>
<path d="M149.6 209.8L133.17 217.89" stroke="#111" stroke-width="0.4" fill="none"/>
<path d="M130.3 219.3L132.57 216.68L133.77 219.1Z" fill="#111"/>
</g>
<g id="panel-f">
<g clip-path="url(#cp3)"><g filter="url(#parula)">
<rect x="243.7" y="192.7" width="157.6" height="139" fill="#545454" fill-opacity="1"/>
<rect x="243.7" y="192.7" width="157.6" height="139" fill="url(#sideR3)" fill-opacity="1"/>
<path d="M289.17 187.95 289.17 194.7 289.1 216.46 290.65 230.97 292.86 239.67 299.21 252.73 302.7 261.43 305.55 268.69 310.63 279.71 317.63 288.71 320.81 291.9 320.81 291.9 324.02 288.71 331.07 279.71 336.22 268.69 339.12 261.43 342.66 252.73 349.09 239.67 351.35 230.97 353 216.46 353.07 194.7 353.07 187.95Z" fill="#303030" fill-opacity="0.6" filter="url(#b30)"/>
<path d="M411.76 187.95 411.76 194.7 411.62 212.98 411.2 224.65 410.51 234.61 409.53 243.54 408.28 251.71 406.76 259.28 404.95 266.31 402.88 272.87 400.52 278.98 397.9 284.67 394.99 289.95 391.81 294.83 388.35 299.31 384.61 303.4 380.58 307.11 376.24 310.43 371.59 313.36 366.61 315.9 361.24 318.05 355.44 319.81 349.11 321.18 342.05 322.17 333.78 322.75 320.81 322.95 307.85 322.75 299.57 322.17 292.51 321.18 286.18 319.81 280.38 318.05 275.02 315.9 270.03 313.36 265.38 310.43 261.04 307.11 257.01 303.4 253.27 299.31 249.81 294.83 246.63 289.95 243.72 284.67 241.1 278.98 238.74 272.87 236.67 266.31 234.86 259.28 233.34 251.71 232.09 243.54 231.12 234.61 230.42 224.65 230 212.98 229.86 194.7 229.86 187.95" fill="none" stroke="#6b6b6b" stroke-opacity="0.5" stroke-width="10" stroke-linejoin="round" filter="url(#b40)"/>
<path d="M389.75 187.95 389.75 194.7 389.66 213.76 389.37 224.46 388.9 233.27 388.23 240.98 387.37 247.93 386.32 254.27 385.08 260.1 383.64 265.48 382.01 270.46 380.19 275.07 378.17 279.31 375.94 283.22 373.51 286.79 370.86 290.04 368 292.97 364.89 295.59 361.54 297.89 357.91 299.89 353.96 301.57 349.64 302.95 344.83 304.02 339.34 304.79 332.68 305.25 320.81 305.4 308.94 305.25 302.28 304.79 296.79 304.02 291.98 302.95 287.66 301.57 283.71 299.89 280.08 297.89 276.73 295.59 273.62 292.97 270.76 290.04 268.11 286.79 265.68 283.22 263.46 279.31 261.43 275.07 259.61 270.46 257.98 265.48 256.54 260.1 255.3 254.27 254.25 247.93 253.39 240.98 252.72 233.27 252.25 224.46 251.96 213.76 251.87 194.7 251.87 187.95" fill="none" stroke="url(#arcg3)" stroke-opacity="1.0" stroke-width="16" stroke-linejoin="round" filter="url(#b50)"/>
<path d="M373.62 187.95 373.62 194.7 373.54 211.57 373.32 221.45 372.94 229.67 372.41 236.92 371.73 243.48 370.9 249.49 369.92 255.04 368.79 260.18 367.5 264.95 366.07 269.37 364.47 273.45 362.72 277.21 360.81 280.65 358.74 283.78 356.5 286.62 354.08 289.14 351.47 291.37 348.65 293.31 345.59 294.94 342.26 296.28 338.57 297.31 334.4 298.06 329.38 298.5 320.81 298.65 312.24 298.5 307.22 298.06 303.05 297.31 299.36 296.28 296.03 294.94 292.98 293.31 290.16 291.37 287.54 289.14 285.12 286.62 282.88 283.78 280.81 280.65 278.9 277.21 277.15 273.45 275.55 269.37 274.12 264.95 272.83 260.18 271.7 255.04 270.72 249.49 269.89 243.48 269.21 236.92 268.68 229.67 268.3 221.45 268.08 211.57 268 194.7 268 187.95" fill="none" stroke="url(#arcg3)" stroke-opacity="0.9" stroke-width="15" stroke-linejoin="round" filter="url(#b50)"/>
<path d="M357.48 187.95 357.48 194.7 357.42 207.13 357.24 215.84 356.94 223.5 356.52 230.5 355.98 236.99 355.32 243.06 354.54 248.76 353.64 254.11 352.63 259.12 351.5 263.82 350.26 268.19 348.9 272.26 347.43 276 345.84 279.43 344.14 282.55 342.33 285.34 340.39 287.82 338.33 289.97 336.13 291.79 333.78 293.29 331.24 294.45 328.47 295.28 325.31 295.78 320.81 295.95 316.31 295.78 313.15 295.28 310.38 294.45 307.84 293.29 305.49 291.79 303.29 289.97 301.23 287.82 299.29 285.34 297.48 282.55 295.78 279.43 294.19 276 292.72 272.26 291.36 268.19 290.12 263.82 288.99 259.12 287.98 254.11 287.08 248.76 286.31 243.06 285.64 236.99 285.1 230.5 284.68 223.5 284.38 215.84 284.2 207.13 284.14 194.7 284.14 187.95" fill="none" stroke="url(#arcg3)" stroke-opacity="0.8" stroke-width="13" stroke-linejoin="round" filter="url(#b50)"/>
<ellipse cx="320.81" cy="300.68" rx="64.51" ry="29.7" fill="url(#haloR)" fill-opacity="1"/>
<path d="M291.47 187.95 291.47 194.7 291.4 216.16 292.84 230.46 294.89 239.05 300.78 251.92 304.01 260.51 306.65 267.66 311.36 278.53 317.86 287.4 320.81 290.55 320.81 290.55 323.78 287.4 330.34 278.53 335.11 267.66 337.8 260.51 341.09 251.92 347.06 239.05 349.17 230.46 350.69 216.16 350.76 194.7 350.76 187.95Z" fill="#333333" fill-opacity="0.5" filter="url(#b40)"/>
<path d="M296.23 187.95 296.23 194.7 296.17 215.25 297.36 228.95 299.08 237.17 304.01 249.51 306.72 257.73 308.94 264.58 312.89 274.99 318.33 283.49 320.81 286.5 320.81 286.5 323.31 283.49 328.81 274.99 332.83 264.58 335.09 257.73 337.85 249.51 342.87 237.17 344.64 228.95 345.93 215.25 346 194.7 346 187.95Z" fill="#1c1c1c" fill-opacity="0.66" filter="url(#b35)"/>
<path d="M303.64 187.95 303.64 194.7 303.58 214.35 304.4 227.44 305.6 235.3 309.05 247.09 310.95 254.95 312.5 261.49 315.26 271.45 319.07 279.57 320.81 282.45 320.81 282.45 322.57 279.57 326.44 271.45 329.27 261.49 330.87 254.95 332.82 247.09 336.35 235.3 337.6 227.44 338.52 214.35 338.59 194.7 338.59 187.95Z" fill="#0a0a0a" fill-opacity="0.7" filter="url(#b40)"/>
<rect x="294.7" y="218.18" width="54.6" height="3.94" fill="#424242" fill-opacity="0.7" filter="url(#b10)"/>
<ellipse cx="320.81" cy="295.68" rx="38.4" ry="15.93" fill="url(#blobR)" fill-opacity="1"/>
</g></g>
<path d="M245.7 194.7V329.7H399.3" fill="none" stroke="#262626" stroke-width="0.35" stroke-opacity="0.8"/>
<path d="M261.54 329.7v-1.2M277.54 329.7v-1.2M293.54 329.7v-1.2M309.54 329.7v-1.2M325.54 329.7v-1.2M341.54 329.7v-1.2M357.54 329.7v-1.2M373.54 329.7v-1.2M389.54 329.7v-1.2M245.7 216.19h1.2M245.7 237.89h1.2M245.7 259.6h1.2M245.7 281.3h1.2M245.7 303h1.2M245.7 324.71h1.2" stroke="#262626" stroke-width="0.35" stroke-opacity="0.8" fill="none"/>
<g font-size="5.2" fill="#3a3a3a">
<g text-anchor="middle"><text x="261.54" y="337.7">50</text><text x="277.54" y="337.7">100</text><text x="293.54" y="337.7">150</text><text x="309.54" y="337.7">200</text><text x="325.54" y="337.7">250</text><text x="341.54" y="337.7">300</text><text x="357.54" y="337.7">350</text><text x="373.54" y="337.7">400</text><text x="389.54" y="337.7">450</text></g>
<g text-anchor="end"><text x="243.3" y="218.09">50</text><text x="243.3" y="239.79">100</text><text x="243.3" y="261.5">150</text><text x="243.3" y="283.2">200</text><text x="243.3" y="304.9">250</text><text x="243.3" y="326.61">300</text></g>
</g>
<text x="322.5" y="191.3" font-size="5.75" font-weight="bold" text-anchor="middle" fill="#111">RGB Image</text>
<text x="322.5" y="345.6" font-size="5.9" text-anchor="middle" fill="#3a3a3a">Specimen Length (pixels)</text>
<text transform="translate(230.9 262.2) rotate(-90)" font-size="5.9" text-anchor="middle" fill="#3a3a3a">Specimen Depth (pixels)</text>
<text class="s" x="322.5" y="355.8" font-size="6.2" text-anchor="middle" fill="#222">(f)</text>
<rect x="403.9" y="194.7" width="8.2" height="135" fill="url(#cbar)" stroke="#262626" stroke-width="0.3" stroke-opacity="0.7"/>
<path d="M412.1 320.39h-1M412.1 306.49h-1M412.1 292.6h-1M412.1 278.7h-1M412.1 264.81h-1M412.1 250.91h-1M412.1 237.01h-1M412.1 223.12h-1M412.1 209.22h-1M412.1 195.33h-1" stroke="#262626" stroke-width="0.35" stroke-opacity="0.8" fill="none"/>
<g font-size="5.2" fill="#3a3a3a"><text x="415.1" y="322.29">4</text><text x="415.1" y="308.39">6</text><text x="415.1" y="294.5">8</text><text x="415.1" y="280.6">10</text><text x="415.1" y="266.71">12</text><text x="415.1" y="252.81">14</text><text x="415.1" y="238.91">16</text><text x="415.1" y="225.02">18</text><text x="415.1" y="211.12">20</text><text x="415.1" y="197.23">22</text></g>
<text class="s" x="404.3" y="192.7" font-size="7.3" textLength="7.5" lengthAdjust="spacingAndGlyphs" fill="#222" stroke="#222" stroke-width="0.06">dB</text>
<rect x="293.2" y="214" width="57.6" height="11.6" fill="none" stroke="#dc1e32" stroke-width="0.7"/>
<rect x="294" y="243.4" width="11.5" height="11.5" fill="none" stroke="#14183c" stroke-width="0.6"/>
<rect x="317.2" y="243.4" width="11.5" height="11.5" fill="none" stroke="#14183c" stroke-width="0.6"/>
<rect x="342.3" y="243.4" width="11.5" height="11.5" fill="none" stroke="#14183c" stroke-width="0.6"/>
<g class="s" font-size="7.5" fill="#14244e" stroke="#14244e" stroke-width="0.1"><text x="362.8" y="201.6" textLength="29.6" lengthAdjust="spacingAndGlyphs">SAW dead</text><text x="370.9" y="209" textLength="13.4" lengthAdjust="spacingAndGlyphs">zone</text></g>
<path d="M370.5 210L354.08 217.91" stroke="#111" stroke-width="0.4" fill="none"/>
<path d="M351.2 219.3L353.5 216.69L354.67 219.13Z" fill="#111"/>
</g>
<g id="panel-g">
<g clip-path="url(#cp4)"><g filter="url(#parula)">
<rect x="21.2" y="372.5" width="164.8" height="145.8" fill="#373737" fill-opacity="1"/>
<path d="M163.63 367.41 163.63 374.5 163.54 391.53 163.28 401.5 162.85 409.8 162.24 417.12 161.46 423.74 160.51 429.81 159.38 435.41 158.08 440.6 156.6 445.41 154.95 449.87 153.12 453.99 151.11 457.78 148.92 461.26 146.54 464.43 143.96 467.28 141.18 469.84 138.18 472.09 134.94 474.04 131.43 475.69 127.6 477.03 123.36 478.08 118.57 478.83 112.81 479.28 102.96 479.43 93.11 479.28 87.35 478.83 82.55 478.08 78.32 477.03 74.49 475.69 70.98 474.04 67.74 472.09 64.74 469.84 61.96 467.28 59.38 464.43 57 461.26 54.8 457.78 52.79 453.99 50.96 449.87 49.31 445.41 47.83 440.6 46.53 435.41 45.41 429.81 44.45 423.74 43.67 417.12 43.07 409.8 42.63 401.5 42.37 391.53 42.29 374.5 42.29 367.41" fill="none" stroke="#5e5e5e" stroke-opacity="0.55" stroke-width="18" stroke-linejoin="round" filter="url(#b40)"/>
<path d="M206.96 367.41 206.96 374.5 206.81 394.64 206.37 406.43 205.63 416.24 204.59 424.89 203.25 432.72 201.61 439.9 199.68 446.53 197.45 452.66 194.92 458.35 192.09 463.62 188.95 468.49 185.51 472.98 181.75 477.09 177.66 480.83 173.24 484.21 168.48 487.23 163.33 489.89 157.78 492.2 151.76 494.15 145.2 495.74 137.94 496.98 129.72 497.87 119.84 498.4 102.96 498.57 86.07 498.4 76.19 497.87 67.97 496.98 60.72 495.74 54.15 494.15 48.14 492.2 42.58 489.89 37.44 487.23 32.67 484.21 28.25 480.83 24.17 477.09 20.41 472.98 16.96 468.49 13.82 463.62 10.99 458.35 8.46 452.66 6.23 446.53 4.3 439.9 2.66 432.72 1.33 424.89 0.29 416.24 -0.45 406.43 -0.9 394.64 -1.05 374.5 -1.05 367.41" fill="none" stroke="#525252" stroke-opacity="0.55" stroke-width="2.4" stroke-linejoin="round" filter="url(#b12)"/>
<path d="M177.02 367.41 177.02 374.5 176.93 395.82 176.64 406.9 176.16 415.84 175.48 423.57 174.61 430.45 173.55 436.69 172.29 442.39 170.84 447.63 169.18 452.45 167.33 456.9 165.26 460.98 162.99 464.72 160.5 468.14 157.78 471.24 154.83 474.03 151.62 476.52 148.13 478.71 144.34 480.6 140.19 482.19 135.6 483.5 130.46 484.51 124.52 485.23 117.14 485.67 102.96 485.81 88.77 485.67 81.4 485.23 75.45 484.51 70.31 483.5 65.73 482.19 61.58 480.6 57.78 478.71 54.3 476.52 51.09 474.03 48.13 471.24 45.42 468.14 42.92 464.72 40.65 460.98 38.59 456.9 36.73 452.45 35.08 447.63 33.62 442.39 32.36 436.69 31.3 430.45 30.43 423.57 29.76 415.84 29.28 406.9 28.99 395.82 28.89 374.5 28.89 367.41" fill="none" stroke="url(#arcg4)" stroke-opacity="1.0" stroke-width="4.0" stroke-linejoin="round" filter="url(#b13)"/>
<path d="M61.58 480.6 57.78 478.71 54.3 476.52 51.09 474.03 48.13 471.24 45.42 468.14 42.92 464.72 40.65 460.98 38.59 456.9 36.73 452.45 35.08 447.63 33.62 442.39 32.36 436.69 31.3 430.45 30.43 423.57 29.76 415.84 29.28 406.9 28.99 395.82 28.89 374.5 28.89 367.41" fill="none" stroke="#6b6b6b" stroke-opacity="0.55" stroke-width="3.2" stroke-linejoin="round" filter="url(#b14)"/>
<path d="M165.52 367.41 165.52 374.5 165.43 393.45 165.18 403.69 164.76 412.03 164.18 419.28 163.42 425.77 162.5 431.68 161.4 437.09 160.14 442.08 158.7 446.68 157.09 450.93 155.3 454.84 153.33 458.43 151.18 461.71 148.83 464.68 146.28 467.37 143.52 469.76 140.53 471.87 137.28 473.69 133.73 475.23 129.84 476.49 125.48 477.47 120.48 478.16 114.33 478.58 102.96 478.72 91.58 478.58 85.43 478.16 80.43 477.47 76.08 476.49 72.18 475.23 68.63 473.69 65.38 471.87 62.39 469.76 59.63 467.37 57.08 464.68 54.73 461.71 52.58 458.43 50.61 454.84 48.82 450.93 47.21 446.68 45.77 442.08 44.51 437.09 43.42 431.68 42.49 425.77 41.74 419.28 41.15 412.03 40.73 403.69 40.48 393.45 40.4 374.5 40.4 367.41" fill="none" stroke="url(#arcg4)" stroke-opacity="0.6" stroke-width="4.0" stroke-linejoin="round" filter="url(#b20)"/>
<path d="M151.81 367.41 151.81 374.5 151.74 390.61 151.53 400.04 151.18 407.89 150.69 414.81 150.06 421.08 149.3 426.82 148.39 432.12 147.34 437.03 146.15 441.58 144.82 445.8 143.35 449.69 141.73 453.28 139.96 456.57 138.05 459.57 135.97 462.27 133.73 464.68 131.31 466.81 128.71 468.66 125.88 470.22 122.8 471.49 119.39 472.48 115.53 473.19 110.89 473.62 102.96 473.76 95.03 473.62 90.39 473.19 86.52 472.48 83.12 471.49 80.03 470.22 77.21 468.66 74.6 466.81 72.18 464.68 69.94 462.27 67.87 459.57 65.95 456.57 64.18 453.28 62.57 449.69 61.09 445.8 59.76 441.58 58.57 437.03 57.52 432.12 56.62 426.82 55.85 421.08 55.22 414.81 54.73 407.89 54.38 400.04 54.18 390.61 54.11 374.5 54.11 367.41" fill="none" stroke="url(#arcg4)" stroke-opacity="0.5" stroke-width="3.6" stroke-linejoin="round" filter="url(#b20)"/>
<path d="M139.99 367.41 139.99 374.5 139.93 388.25 139.76 397.02 139.48 404.51 139.08 411.22 138.57 417.37 137.95 423.05 137.22 428.34 136.37 433.27 135.42 437.87 134.35 442.14 133.16 446.11 131.87 449.78 130.46 453.15 128.94 456.23 127.29 459.01 125.53 461.51 123.63 463.71 121.6 465.62 119.42 467.24 117.06 468.57 114.48 469.6 111.61 470.33 108.24 470.78 102.96 470.92 97.68 470.78 94.31 470.33 91.43 469.6 88.85 468.57 86.49 467.24 84.31 465.62 82.28 463.71 80.39 461.51 78.62 459.01 76.98 456.23 75.45 453.15 74.05 449.78 72.75 446.11 71.57 442.14 70.5 437.87 69.54 433.27 68.69 428.34 67.96 423.05 67.34 417.37 66.83 411.22 66.43 404.51 66.15 397.02 65.98 388.25 65.92 374.5 65.92 367.41" fill="none" stroke="url(#arcg4)" stroke-opacity="0.4" stroke-width="2.8" stroke-linejoin="round" filter="url(#b18)"/>
<rect x="21.2" y="372.5" width="164.8" height="145.8" fill="url(#sideL4)" fill-opacity="1"/>
<path d="M70.15 367.41 71.11 374.5 70.36 396.79 72.41 411.65 74.73 420.57 79.63 433.94 82.9 442.86 85.67 450.29 91.67 461.59 97.65 470.8 102.96 476.6 102.96 476.6 108.16 470.8 113.96 461.59 119.74 450.29 122.38 442.86 125.48 433.94 130.13 420.57 132.27 411.65 134.04 396.79 132.88 374.5 133.83 367.41Z" fill="#212121" fill-opacity="0.55" filter="url(#b30)"/>
<path d="M76.42 367.41 77.19 374.5 76.64 395.71 78.31 409.85 80.18 418.33 84.15 431.05 86.79 439.54 89.03 446.61 93.87 457.35 98.68 466.12 102.96 471.63 102.96 471.63 107.12 466.12 111.76 457.35 116.39 446.61 118.49 439.54 120.96 431.05 124.67 418.33 126.38 409.85 127.77 395.71 126.79 374.5 127.56 367.41Z" fill="#181818" fill-opacity="0.84" filter="url(#b18)"/>
<path d="M81.02 367.41 81.65 374.5 81.23 394.93 82.63 408.56 84.18 416.73 87.46 428.99 89.64 437.16 91.49 443.98 95.48 454.33 99.44 462.78 102.96 468.09 102.96 468.09 106.36 462.78 110.15 454.33 113.93 443.98 115.64 437.16 117.65 428.99 120.67 416.73 122.05 408.56 123.17 394.93 122.33 374.5 122.96 367.41Z" fill="#080808" fill-opacity="0.55" filter="url(#b30)"/>
<rect x="74.7" y="400.76" width="56.4" height="4.22" fill="#3d3d3d" fill-opacity="0.7" filter="url(#b10)"/>
<ellipse cx="102.96" cy="494.32" rx="17.69" ry="2.84" fill="#080808" fill-opacity="0.5" filter="url(#b18)"/>
<ellipse cx="102.96" cy="476.88" rx="57.89" ry="6.66" fill="url(#tailL)" fill-opacity="1"/>
<ellipse cx="102.96" cy="477.3" rx="32.16" ry="9.93" fill="url(#haloL)" fill-opacity="1"/>
<ellipse cx="102.96" cy="477.3" rx="20.9" ry="7.94" fill="url(#blobL)" fill-opacity="1"/>
</g></g>
<path d="M23.2 374.5V516.3H184" fill="none" stroke="#262626" stroke-width="0.35" stroke-opacity="0.8"/>
<path d="M44.39 516.3v-1.2M65.69 516.3v-1.2M86.99 516.3v-1.2M108.29 516.3v-1.2M129.58 516.3v-1.2M150.88 516.3v-1.2M172.18 516.3v-1.2M23.2 388.54h1.2M23.2 402.72h1.2M23.2 416.9h1.2M23.2 431.08h1.2M23.2 445.26h1.2M23.2 459.44h1.2M23.2 473.62h1.2M23.2 487.8h1.2M23.2 501.98h1.2M23.2 516.16h1.2" stroke="#262626" stroke-width="0.35" stroke-opacity="0.8" fill="none"/>
<g font-size="5.2" fill="#3a3a3a">
<g text-anchor="middle"><text x="44.39" y="524.8">100</text><text x="65.69" y="524.8">200</text><text x="86.99" y="524.8">300</text><text x="108.29" y="524.8">400</text><text x="129.58" y="524.8">500</text><text x="150.88" y="524.8">600</text><text x="172.18" y="524.8">700</text></g>
<g text-anchor="end"><text x="20.8" y="390.44">50</text><text x="20.8" y="404.62">100</text><text x="20.8" y="418.8">150</text><text x="20.8" y="432.98">200</text><text x="20.8" y="447.16">250</text><text x="20.8" y="461.34">300</text><text x="20.8" y="475.52">350</text><text x="20.8" y="489.7">400</text><text x="20.8" y="503.88">450</text><text x="20.8" y="518.06">500</text></g>
</g>
<text x="103.6" y="371.3" font-size="5.75" font-weight="bold" text-anchor="middle" fill="#111">RGB Image</text>
<text x="103.6" y="532.8" font-size="6.05" text-anchor="middle" fill="#3a3a3a">Specimen Length (pixels)</text>
<text transform="translate(8.4 445.4) rotate(-90)" font-size="6.05" text-anchor="middle" fill="#3a3a3a">Specimen Depth (pixels)</text>
<text class="s" x="103.6" y="543.5" font-size="6.2" text-anchor="middle" fill="#222">(g)</text>
<rect x="188.3" y="374.5" width="8.6" height="141.8" fill="url(#cbar)" stroke="#262626" stroke-width="0.3" stroke-opacity="0.7"/>
<path d="M196.9 510h-1M196.9 494.24h-1M196.9 478.49h-1M196.9 462.73h-1M196.9 446.98h-1M196.9 431.22h-1M196.9 415.46h-1M196.9 399.71h-1M196.9 383.95h-1" stroke="#262626" stroke-width="0.35" stroke-opacity="0.8" fill="none"/>
<g font-size="5.2" fill="#3a3a3a"><text x="199.9" y="511.9">2</text><text x="199.9" y="496.14">4</text><text x="199.9" y="480.39">6</text><text x="199.9" y="464.63">8</text><text x="199.9" y="448.88">10</text><text x="199.9" y="433.12">12</text><text x="199.9" y="417.36">14</text><text x="199.9" y="401.61">16</text><text x="199.9" y="385.85">18</text></g>
<text class="s" x="189.2" y="371.4" font-size="7.3" textLength="7.5" lengthAdjust="spacingAndGlyphs" fill="#222" stroke="#222" stroke-width="0.06">dB</text>
<rect x="73.2" y="396.3" width="59.4" height="12.4" fill="none" stroke="#dc1e32" stroke-width="0.7"/>
<rect x="72.1" y="425.6" width="11.8" height="11.8" fill="none" stroke="#14183c" stroke-width="0.6"/>
<rect x="97.3" y="425.6" width="11.8" height="11.8" fill="none" stroke="#14183c" stroke-width="0.6"/>
<rect x="123.3" y="425.6" width="11.8" height="11.8" fill="none" stroke="#14183c" stroke-width="0.6"/>
<g class="s" font-size="7.7" fill="#14244e" stroke="#14244e" stroke-width="0.1"><text x="145.8" y="383" textLength="30.4" lengthAdjust="spacingAndGlyphs">SAW dead</text><text x="154.05" y="391.1" textLength="13.9" lengthAdjust="spacingAndGlyphs">zone</text></g>
<path d="M155.3 392.3L136.01 401.07" stroke="#111" stroke-width="0.4" fill="none"/>
<path d="M133.1 402.4L135.45 399.85L136.57 402.3Z" fill="#111"/>
</g>
<g id="panel-h">
<g clip-path="url(#cp5)"><g filter="url(#parula)">
<rect x="237.8" y="372.5" width="165" height="145.8" fill="#545454" fill-opacity="1"/>
<rect x="237.8" y="372.5" width="165" height="145.8" fill="url(#sideR5)" fill-opacity="1"/>
<path d="M286.33 367.41 286.33 374.5 286.44 397.36 288.14 412.6 290.46 421.74 297.02 435.45 300.65 444.6 303.61 452.21 308.87 463.8 316.07 473.24 319.33 476.6 319.33 476.6 322.57 473.24 329.68 463.8 334.83 452.21 337.72 444.6 341.25 435.45 347.69 421.74 349.93 412.6 351.48 397.36 351.37 374.5 351.37 367.41Z" fill="#303030" fill-opacity="0.6" filter="url(#b30)"/>
<path d="M417.16 367.41 417.16 374.5 417.01 393.7 416.56 405.96 415.81 416.42 414.76 425.8 413.42 434.39 411.78 442.33 409.84 449.72 407.61 456.61 405.08 463.03 402.25 469 399.13 474.54 395.71 479.67 391.98 484.38 387.96 488.68 383.62 492.57 378.96 496.06 373.96 499.13 368.59 501.8 362.82 504.06 356.59 505.92 349.78 507.36 342.18 508.39 333.28 509 319.33 509.21 305.39 509 296.49 508.39 288.89 507.36 282.08 505.92 275.85 504.06 270.08 501.8 264.71 499.13 259.71 496.06 255.05 492.57 250.71 488.68 246.68 484.38 242.96 479.67 239.54 474.54 236.42 469 233.59 463.03 231.06 456.61 228.83 449.72 226.89 442.33 225.25 434.39 223.9 425.8 222.86 416.42 222.11 405.96 221.66 393.7 221.51 374.5 221.51 367.41" fill="none" stroke="#6b6b6b" stroke-opacity="0.5" stroke-width="10" stroke-linejoin="round" filter="url(#b40)"/>
<path d="M393.49 367.41 393.49 374.5 393.39 394.52 393.08 405.76 392.57 415.01 391.85 423.12 390.93 430.41 389.8 437.07 388.46 443.19 386.92 448.85 385.17 454.08 383.2 458.92 381.03 463.38 378.63 467.48 376.02 471.23 373.17 474.65 370.09 477.72 366.75 480.47 363.14 482.89 359.24 484.99 354.99 486.76 350.34 488.2 345.17 489.33 339.27 490.13 332.1 490.62 319.33 490.78 306.57 490.62 299.4 490.13 293.5 489.33 288.33 488.2 283.68 486.76 279.43 484.99 275.52 482.89 271.92 480.47 268.58 477.72 265.5 474.65 262.65 471.23 260.04 467.48 257.64 463.38 255.47 458.92 253.5 454.08 251.75 448.85 250.21 443.19 248.87 437.07 247.74 430.41 246.82 423.12 246.1 415.01 245.59 405.76 245.28 394.52 245.18 374.5 245.18 367.41" fill="none" stroke="url(#arcg5)" stroke-opacity="1.0" stroke-width="16" stroke-linejoin="round" filter="url(#b50)"/>
<path d="M376.13 367.41 376.13 374.5 376.05 392.22 375.81 402.6 375.4 411.23 374.84 418.84 374.11 425.73 373.21 432.05 372.16 437.88 370.94 443.28 369.56 448.29 368.01 452.93 366.3 457.21 364.42 461.16 362.36 464.78 360.13 468.07 357.72 471.05 355.12 473.7 352.31 476.04 349.27 478.07 345.99 479.79 342.4 481.19 338.44 482.28 333.95 483.06 328.55 483.53 319.33 483.69 310.11 483.53 304.72 483.06 300.23 482.28 296.27 481.19 292.68 479.79 289.39 478.07 286.36 476.04 283.55 473.7 280.95 471.05 278.53 468.07 276.3 464.78 274.25 461.16 272.37 457.21 270.66 452.93 269.11 448.29 267.73 443.28 266.51 437.88 265.45 432.05 264.56 425.73 263.83 418.84 263.26 411.23 262.86 402.6 262.61 392.22 262.53 374.5 262.53 367.41" fill="none" stroke="url(#arcg5)" stroke-opacity="0.9" stroke-width="15" stroke-linejoin="round" filter="url(#b50)"/>
<path d="M358.78 367.41 358.78 374.5 358.71 387.55 358.52 396.71 358.19 404.75 357.74 412.1 357.16 418.92 356.45 425.3 355.61 431.28 354.65 436.9 353.56 442.17 352.34 447.1 351.01 451.7 349.55 455.96 347.97 459.9 346.26 463.5 344.43 466.77 342.48 469.71 340.39 472.31 338.17 474.57 335.81 476.48 333.28 478.05 330.55 479.27 327.57 480.15 324.17 480.67 319.33 480.85 314.49 480.67 311.1 480.15 308.11 479.27 305.39 478.05 302.86 476.48 300.49 474.57 298.27 472.31 296.19 469.71 294.24 466.77 292.41 463.5 290.7 459.9 289.12 455.96 287.66 451.7 286.32 447.1 285.11 442.17 284.02 436.9 283.06 431.28 282.22 425.3 281.51 418.92 280.93 412.1 280.47 404.75 280.15 396.71 279.95 387.55 279.89 374.5 279.89 367.41" fill="none" stroke="url(#arcg5)" stroke-opacity="0.8" stroke-width="13" stroke-linejoin="round" filter="url(#b50)"/>
<ellipse cx="319.33" cy="485.81" rx="67.62" ry="31.2" fill="url(#haloR)" fill-opacity="1"/>
<path d="M288.74 367.41 288.74 374.5 288.85 397.04 290.43 412.07 292.58 421.08 298.67 434.61 302.02 443.62 304.77 451.14 309.64 462.56 316.31 471.87 319.33 475.18 319.33 475.18 322.33 471.87 328.91 462.56 333.67 451.14 336.34 443.62 339.61 434.61 345.57 421.08 347.63 412.07 349.07 397.04 348.96 374.5 348.96 367.41Z" fill="#333333" fill-opacity="0.5" filter="url(#b40)"/>
<path d="M293.74 367.41 293.74 374.5 293.84 396.09 295.17 410.48 296.97 419.11 302.06 432.07 304.87 440.7 307.16 447.9 311.24 458.84 316.81 467.76 319.33 470.92 319.33 470.92 321.83 467.76 327.31 458.84 331.27 447.9 333.5 440.7 336.22 432.07 341.18 419.11 342.89 410.48 344.08 396.09 343.97 374.5 343.97 367.41Z" fill="#1c1c1c" fill-opacity="0.66" filter="url(#b35)"/>
<path d="M301.23 367.41 301.23 374.5 301.34 395.14 302.29 408.89 303.57 417.15 307.16 429.53 309.14 437.78 310.76 444.66 313.64 455.11 317.56 463.64 319.33 466.67 319.33 466.67 321.08 463.64 324.91 455.11 327.68 444.66 329.23 437.78 331.12 429.53 334.58 417.15 335.77 408.89 336.58 395.14 336.47 374.5 336.47 367.41Z" fill="#0a0a0a" fill-opacity="0.7" filter="url(#b40)"/>
<rect x="293.6" y="399.46" width="57.7" height="4.22" fill="#424242" fill-opacity="0.7" filter="url(#b10)"/>
<ellipse cx="319.33" cy="480.57" rx="40.25" ry="16.73" fill="url(#blobR)" fill-opacity="1"/>
</g></g>
<path d="M239.8 374.5V516.3H400.8" fill="none" stroke="#262626" stroke-width="0.35" stroke-opacity="0.8"/>
<path d="M261.02 516.3v-1.2M282.34 516.3v-1.2M303.67 516.3v-1.2M324.99 516.3v-1.2M346.32 516.3v-1.2M367.64 516.3v-1.2M388.96 516.3v-1.2M239.8 388.54h1.2M239.8 402.72h1.2M239.8 416.9h1.2M239.8 431.08h1.2M239.8 445.26h1.2M239.8 459.44h1.2M239.8 473.62h1.2M239.8 487.8h1.2M239.8 501.98h1.2M239.8 516.16h1.2" stroke="#262626" stroke-width="0.35" stroke-opacity="0.8" fill="none"/>
<g font-size="5.2" fill="#3a3a3a">
<g text-anchor="middle"><text x="261.02" y="524.8">100</text><text x="282.34" y="524.8">200</text><text x="303.67" y="524.8">300</text><text x="324.99" y="524.8">400</text><text x="346.32" y="524.8">500</text><text x="367.64" y="524.8">600</text><text x="388.96" y="524.8">700</text></g>
<g text-anchor="end"><text x="237.4" y="390.44">50</text><text x="237.4" y="404.62">100</text><text x="237.4" y="418.8">150</text><text x="237.4" y="432.98">200</text><text x="237.4" y="447.16">250</text><text x="237.4" y="461.34">300</text><text x="237.4" y="475.52">350</text><text x="237.4" y="489.7">400</text><text x="237.4" y="503.88">450</text><text x="237.4" y="518.06">500</text></g>
</g>
<text x="320.3" y="371.3" font-size="5.75" font-weight="bold" text-anchor="middle" fill="#111">RGB Image</text>
<text x="320.3" y="532.8" font-size="6.05" text-anchor="middle" fill="#3a3a3a">Specimen Length (pixels)</text>
<text transform="translate(225 445.4) rotate(-90)" font-size="6.05" text-anchor="middle" fill="#3a3a3a">Specimen Depth (pixels)</text>
<text class="s" x="325.6" y="543.5" font-size="6.2" text-anchor="middle" fill="#222">(h)</text>
<rect x="405.5" y="374.5" width="8.6" height="141.8" fill="url(#cbar)" stroke="#262626" stroke-width="0.3" stroke-opacity="0.7"/>
<path d="M414.1 505.28h-1M414.1 490.87h-1M414.1 476.45h-1M414.1 462.04h-1M414.1 447.63h-1M414.1 433.22h-1M414.1 418.81h-1M414.1 404.4h-1M414.1 389.99h-1M414.1 375.58h-1" stroke="#262626" stroke-width="0.35" stroke-opacity="0.8" fill="none"/>
<g font-size="5.2" fill="#3a3a3a"><text x="417.1" y="507.18">4</text><text x="417.1" y="492.77">6</text><text x="417.1" y="478.35">8</text><text x="417.1" y="463.94">10</text><text x="417.1" y="449.53">12</text><text x="417.1" y="435.12">14</text><text x="417.1" y="420.71">16</text><text x="417.1" y="406.3">18</text><text x="417.1" y="391.89">20</text><text x="417.1" y="377.48">22</text></g>
<text class="s" x="406" y="371.4" font-size="7.3" textLength="7.5" lengthAdjust="spacingAndGlyphs" fill="#222" stroke="#222" stroke-width="0.06">dB</text>
<rect x="292.1" y="395" width="60.7" height="12.4" fill="none" stroke="#dc1e32" stroke-width="0.7"/>
<rect x="290.2" y="425.6" width="11.8" height="11.8" fill="none" stroke="#14183c" stroke-width="0.6"/>
<rect x="314.8" y="425.6" width="11.8" height="11.8" fill="none" stroke="#14183c" stroke-width="0.6"/>
<rect x="339.6" y="425.6" width="11.8" height="11.8" fill="none" stroke="#14183c" stroke-width="0.6"/>
<g class="s" font-size="7.7" fill="#14244e" stroke="#14244e" stroke-width="0.1"><text x="365.2" y="382" textLength="30.4" lengthAdjust="spacingAndGlyphs">SAW dead</text><text x="373.45" y="390" textLength="13.9" lengthAdjust="spacingAndGlyphs">zone</text></g>
<path d="M376.3 389.8L355.99 399.52" stroke="#111" stroke-width="0.4" fill="none"/>
<path d="M353.1 400.9L355.4 398.3L356.57 400.74Z" fill="#111"/>
</g>
</svg></body></html>
